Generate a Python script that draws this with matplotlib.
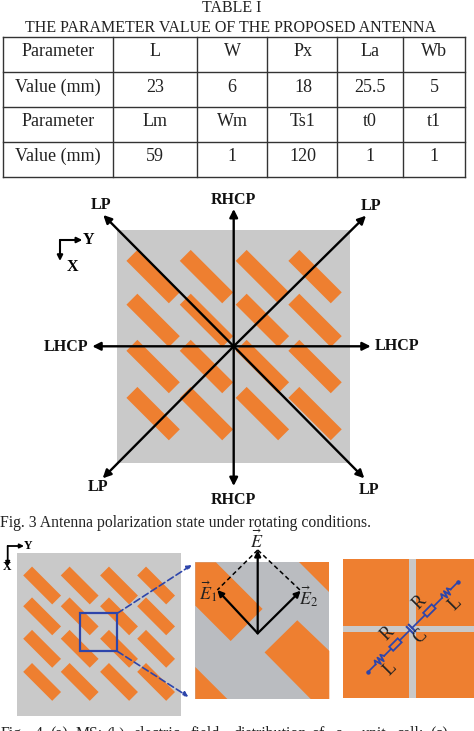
import matplotlib
matplotlib.use('Agg')
import matplotlib.pyplot as plt
from matplotlib.patches import Polygon, Rectangle
import numpy as np

plt.rcParams['font.family'] = ['Liberation Serif', 'DejaVu Sans']
plt.rcParams['mathtext.fontset'] = 'stix'

# Data
table_title = ['TABLE I', 'THE PARAMETER VALUE OF THE PROPOSED ANTENNA']
table_rows = [
    ['Parameter', 'L', 'W', 'Px', 'La', 'Wb'],
    ['Value (mm)', '23', '6', '18', '25.5', '5'],
    ['Parameter', 'Lm', 'Wm', 'Ts1', 't0', 't1'],
    ['Value (mm)', '59', '1', '120', '1', '1'],
]
col_edges = [3.5, 112.7, 197.3, 267.3, 337.3, 403.3, 464.7]
row_edges = [37.3, 72, 107, 142, 176.7]
col_text = [58, 155, 232, 303, 370, 434]
row_text = [51.5, 87, 121.5, 156.5]

# bar centres as fractions of the grey square
bar_cols = [0.155, 0.384, 0.624, 0.850]
bar_rows = [0.200, 0.388, 0.586, 0.788]

caption3 = 'Fig. 3 Antenna polarization state under rotating conditions.'
caption4_words = ['Fig.', '4.', '(a)', 'MS;', '(b)', 'electric', 'field', 'distribution',
                  'of', 'a', 'unit', 'cell;', '(c)']
caption4_x = [1, 35, 50, 76, 106, 133, 191, 233, 311, 336, 362, 396, 430]

# unit cell shapes in panel fractions
cell_shapes = [
    [(0, 0), (0.154, 0), (0.502, 0.341), (0.264, 0.576), (0, 0.317)],
    [(0.776, 0), (1, 0), (1, 0.220)],
    [(0.761, 0.424), (1, 0.648), (1, 1), (0.861, 1), (0.517, 0.659)],
    [(0, 0.766), (0.239, 1), (0, 1)],
]

ORANGE = '#ee7f30'
GREY = '#c9c9c9'
BLUE = '#2d45ab'

fig = plt.figure(figsize=(4.74, 7.31), dpi=100)
ax = fig.add_axes([0, 0, 1, 1])
ax.set_xlim(0, 474)
ax.set_ylim(731, 0)
ax.axis('off')


def draw_arrow(start, end, color='black', lw=1.5, ls='-', scale=10, z=5):
    ax.annotate('', xy=end, xytext=start, zorder=z,
                arrowprops=dict(arrowstyle='-|>', color=color, lw=lw, ls=ls,
                                mutation_scale=scale, shrinkA=0, shrinkB=0))


def draw_bars(x0, y0, size, length, width):
    # slanted bars going from upper left to lower right
    d = np.array([1, 1]) / np.sqrt(2)
    n = np.array([1, -1]) / np.sqrt(2)
    for fy in bar_rows:
        for fx in bar_cols:
            c = np.array([x0 + fx * size, y0 + fy * size])
            pts = [c - d * length / 2 - n * width / 2, c - d * length / 2 + n * width / 2,
                   c + d * length / 2 + n * width / 2, c + d * length / 2 - n * width / 2]
            ax.add_patch(Polygon(pts, color=ORANGE, lw=0, zorder=2))


# Table
for x in col_edges:
    ax.plot([x, x], [row_edges[0], row_edges[-1]], color='#333333', lw=1.0)
for y in row_edges:
    ax.plot([col_edges[0], col_edges[-1]], [y, y], color='#333333', lw=1.0)
for row, y in zip(table_rows, row_text):
    for cell, x in zip(row, col_text):
        ax.text(x, y, cell, ha='center', va='center', fontsize=13, color='#222222')
ax.text(232, 12, table_title[0], ha='center', va='baseline', fontsize=11.5, color='#222222')
ax.text(231, 28.5, table_title[1], ha='center', va='center', fontsize=11.5, color='#222222')

# Polarization figure
ax.add_patch(Rectangle((117, 230), 233, 233, color=GREY, lw=0, zorder=1))
draw_bars(117, 230, 233, 60, 15.5)
centre = (233.7, 346.3)
tips = [(233.7, 209), (233.7, 486), (92.3, 346.3), (370.7, 346.3),
        (103.3, 215), (366, 215.7), (102.7, 478.3), (364.3, 478.3)]
for tip in tips:
    draw_arrow(centre, tip, lw=1.7, scale=12)
labels = [('LP', 100.7, 205), ('LP', 370.7, 206.3), ('RHCP', 233.3, 200),
          ('LHCP', 65.7, 347), ('LHCP', 397.3, 345.5), ('LP', 98.3, 487),
          ('RHCP', 233.3, 500), ('LP', 369, 489.5)]
for text, x, y in labels:
    ax.text(x, y, text, ha='center', va='center', fontsize=11.5, fontweight='bold', color='#111111')
draw_arrow((60, 240), (82.3, 240), lw=1.5, scale=8)
draw_arrow((60, 240), (60, 261), lw=1.5, scale=8)
ax.text(88.7, 240, 'Y', ha='center', va='center', fontsize=11.5, fontweight='bold')
ax.text(72.7, 266.7, 'X', ha='center', va='center', fontsize=11.5, fontweight='bold')
ax.text(0, 523, caption3, ha='left', va='center', fontsize=11.3, color='#222222')

# Panel (a)
ax.add_patch(Rectangle((16.7, 552.7), 164.3, 163, color=GREY, lw=0, zorder=1))
draw_bars(16.7, 552.7, 164, 41, 12.5)
ax.add_patch(Rectangle((80.3, 613.3), 37, 38, fill=False, ec=BLUE, lw=1.6, zorder=4))
draw_arrow((117.3, 613.3), (191.7, 565), color=BLUE, lw=1.2, ls=(0, (4, 2)), scale=7)
draw_arrow((117.3, 651.3), (188.3, 696.7), color=BLUE, lw=1.2, ls=(0, (4, 2)), scale=7)
draw_arrow((7.7, 546), (24, 546), lw=1.3, scale=6)
draw_arrow((7.7, 546), (7.7, 566), lw=1.3, scale=6)
ax.text(28, 546, 'Y', ha='center', va='center', fontsize=8.5, fontweight='bold')
ax.text(7.3, 567, 'X', ha='center', va='center', fontsize=8.5, fontweight='bold')

# Panel (b)
px, py, pw, ph = 195.3, 562.3, 134, 136.7
ax.add_patch(Rectangle((px, py), pw, ph, color='#babcc0', lw=0, zorder=1))
for shape in cell_shapes:
    pts = [(px + fx * pw, py + fy * ph) for fx, fy in shape]
    ax.add_patch(Polygon(pts, color=ORANGE, lw=0, zorder=2))
e0 = (257.7, 633.3)
e_tip = (257.7, 550)
e1_tip = (217.3, 590)
e2_tip = (300.7, 590.7)
draw_arrow(e0, e_tip, lw=1.6, scale=9)
draw_arrow(e0, e1_tip, lw=1.6, scale=9)
draw_arrow(e0, e2_tip, lw=1.6, scale=9)
ax.plot([e_tip[0], e1_tip[0]], [e_tip[1], e1_tip[1]], color='black', lw=1.1, ls=(0, (3, 2)), zorder=4)
ax.plot([e_tip[0], e2_tip[0]], [e_tip[1], e2_tip[1]], color='black', lw=1.1, ls=(0, (3, 2)), zorder=4)
ax.text(256.5, 541, r'$\vec{E}$', ha='center', va='center', fontsize=13, color='#222222')
ax.text(208, 592, r'$\vec{E}_{1}$', ha='center', va='center', fontsize=13, color='#222222')
ax.text(308.5, 597, r'$\vec{E}_{2}$', ha='center', va='center', fontsize=13, color='#222222')

# Panel (c)
ax.add_patch(Rectangle((342.7, 559.3), 131.3, 138.4, color=GREY, lw=0, zorder=1))
ax.add_patch(Rectangle((342.7, 559.3), 66.3, 66.4, color=ORANGE, lw=0, zorder=2))
ax.add_patch(Rectangle((416, 559.3), 58, 66.4, color=ORANGE, lw=0, zorder=2))
ax.add_patch(Rectangle((342.7, 631.7), 66.3, 66, color=ORANGE, lw=0, zorder=2))
ax.add_patch(Rectangle((416, 631.7), 58, 66, color=ORANGE, lw=0, zorder=2))

c = np.array([411.0, 629.0])
u = np.array([1, -1]) / np.sqrt(2)
v = np.array([1, 1]) / np.sqrt(2)


def along(t, s=0):
    return c + u * t + v * s


def wire(t0, t1):
    a, b = along(t0), along(t1)
    ax.plot([a[0], b[0]], [a[1], b[1]], color=BLUE, lw=1.2, zorder=4)


wire(1.5, 20)
wire(32, 44)
wire(56, 67)
wire(-1.5, -16)
wire(-28, -38)
wire(-50, -61)
for t in [1.5, -1.5]:
    a, b = along(t, -4.5), along(t, 4.5)
    ax.plot([a[0], b[0]], [a[1], b[1]], color=BLUE, lw=1.5, zorder=5)
for t in [26, -22]:
    pts = [along(t - 6, -2.8), along(t + 6, -2.8), along(t + 6, 2.8), along(t - 6, 2.8)]
    ax.add_patch(Polygon(pts, fc=ORANGE, ec=BLUE, lw=1.3, zorder=5))
for t in [50, -44]:
    offs = [-6, -4, -2, 0, 2, 4, 6]
    sides = [0, -3.5, 3.5, -3.5, 3.5, -3.5, 0]
    pts = np.array([along(t + o, s) for o, s in zip(offs, sides)])
    ax.plot(pts[:, 0], pts[:, 1], color=BLUE, lw=1.3, zorder=5)
for end in [67, -61]:
    p = along(end)
    ax.plot(p[0], p[1], 'o', color=BLUE, ms=2.2, zorder=5)

circuit_labels = [('R', 420, 603), ('L', 455, 604), ('R', 388, 634), ('L', 390, 669), ('C', 420, 637)]
for text, x, y in circuit_labels:
    ax.text(x, y, text, ha='center', va='center', fontsize=13, rotation=45, color='#222222', zorder=6)

# Bottom caption, cut off by the lower edge of the picture
for word, x in zip(caption4_words, caption4_x):
    ax.text(x, 734, word, ha='left', va='center', fontsize=11.4, color='#222222', clip_on=False)

fig.savefig('out.png', dpi=100)
